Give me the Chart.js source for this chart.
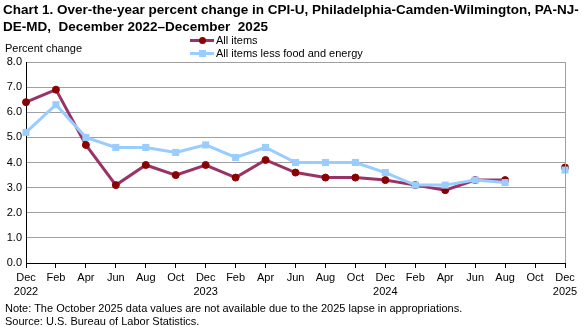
<!DOCTYPE html>
<html>
<head>
<meta charset="utf-8">
<script src="https://cdn.jsdelivr.net/npm/chart.js@4"></script>
<style>
  html, body { margin: 0; padding: 0; background: #fff; }
  body { width: 586px; height: 327px; position: relative; overflow: hidden;
         font-family: "Liberation Sans", Arial, sans-serif; color: #000; }
  #chart { position: absolute; left: 0; top: 0; }
  .title { position: absolute; left: 3px; top: 1px; font-size: 13.5px; font-weight: bold;
           line-height: 17px; white-space: nowrap; }
  .ylab { position: absolute; left: 5px; top: 42px; font-size: 11px; }
  .legend { position: absolute; left: 190px; top: 34px; font-size: 11px; line-height: 13px; }
  .legend div { position: relative; padding-left: 26px; height: 13px; }
  .legend i { position: absolute; left: 0; top: 5px; width: 24px; height: 3px; }
  .legend b { position: absolute; }
  .note { position: absolute; left: 5px; top: 302px; font-size: 11px; line-height: 13px; }
</style>
</head>
<body>
<canvas id="chart" width="586" height="327"></canvas>
<div class="title">Chart 1. Over-the-year percent change in CPI-U, Philadelphia-Camden-Wilmington, PA-NJ-<br>DE-MD, &nbsp;December 2022–December &nbsp;2025</div>
<div class="ylab">Percent change</div>
<div class="legend">
  <div><i style="background:#993366"></i><b style="left:9px;top:3px;width:7px;height:7px;border-radius:50%;background:#8b0000"></b>All items</div>
  <div><i style="background:#99ccff"></i><b style="left:9px;top:3px;width:7px;height:7px;background:#99ccff"></b>All items less food and energy</div>
</div>
<div class="note">Note: The October 2025 data values are not available due to the 2025 lapse in appropriations.<br>Source: U.S. Bureau of Labor Statistics.</div>
<script>
// bimonthly, Dec 2022 – Dec 2025 (Oct 2025 missing)
const months = [
  ['Dec', '2022'], 'Feb', 'Apr', 'Jun', 'Aug', 'Oct',
  ['Dec', '2023'], 'Feb', 'Apr', 'Jun', 'Aug', 'Oct',
  ['Dec', '2024'], 'Feb', 'Apr', 'Jun', 'Aug', 'Oct',
  ['Dec', '2025']
];
const allItems  = [6.4, 6.9, 4.7, 3.1, 3.9, 3.5, 3.9, 3.4, 4.1, 3.6, 3.4, 3.4, 3.3, 3.1, 2.9, 3.3, 3.3, null, 3.8];
const coreItems = [5.2, 6.3, 5.0, 4.6, 4.6, 4.4, 4.7, 4.2, 4.6, 4.0, 4.0, 4.0, 3.6, 3.1, 3.1, 3.3, 3.2, null, 3.7];

const FONT = { family: '"Liberation Sans", Arial, sans-serif', size: 11, lineHeight: 1.3 };

// gray frame line on the right side of the plot
const rightFrame = {
  id: 'rightFrame',
  afterDraw(chart) {
    const { ctx, chartArea: a } = chart;
    ctx.save();
    ctx.strokeStyle = '#a0a0a0';
    ctx.lineWidth = 1;
    ctx.beginPath();
    ctx.moveTo(Math.round(a.right) + 0.5, a.top);
    ctx.lineTo(Math.round(a.right) + 0.5, a.bottom);
    ctx.stroke();
    ctx.restore();
  }
};

new Chart(document.getElementById('chart'), {
  type: 'line',
  data: {
    labels: months,
    datasets: [
      {
        label: 'All items',
        data: allItems,
        borderColor: '#993366',
        backgroundColor: '#8b0000',
        borderWidth: 3,
        pointStyle: 'circle',
        pointRadius: 3.5,
        pointBorderColor: '#8b0000',
        pointBackgroundColor: '#8b0000',
        pointBorderWidth: 1,
        tension: 0,
        order: 1
      },
      {
        label: 'All items less food and energy',
        data: coreItems,
        borderColor: '#99ccff',
        backgroundColor: '#99ccff',
        borderWidth: 3,
        pointStyle: 'rect',
        pointRadius: 5,
        pointBorderWidth: 0,
        tension: 0,
        order: 0
      }
    ]
  },
  options: {
    responsive: false,
    animation: false,
    layout: { padding: { top: 62, right: 21, left: 0, bottom: 0 } },
    plugins: { legend: { display: false }, tooltip: { enabled: false } },
    scales: {
      x: {
        offset: false,
        afterFit: s => { s.height = 64; },
        grid: { drawOnChartArea: false, drawTicks: true, tickLength: 5, color: '#000' },
        border: { color: '#000', width: 1 },
        ticks: { color: '#000', font: FONT, maxRotation: 0, autoSkip: false, padding: 3 }
      },
      y: {
        min: 0, max: 8,
        afterFit: s => { s.width = 26; },
        grid: { color: '#a0a0a0', drawTicks: false },
        border: { color: '#000', width: 1 },
        ticks: { stepSize: 1, color: '#000', font: { family: FONT.family, size: 11 }, padding: 4,
                 callback: v => v.toFixed(1) }
      }
    }
  },
  plugins: [rightFrame]
});
</script>
</body>
</html>
